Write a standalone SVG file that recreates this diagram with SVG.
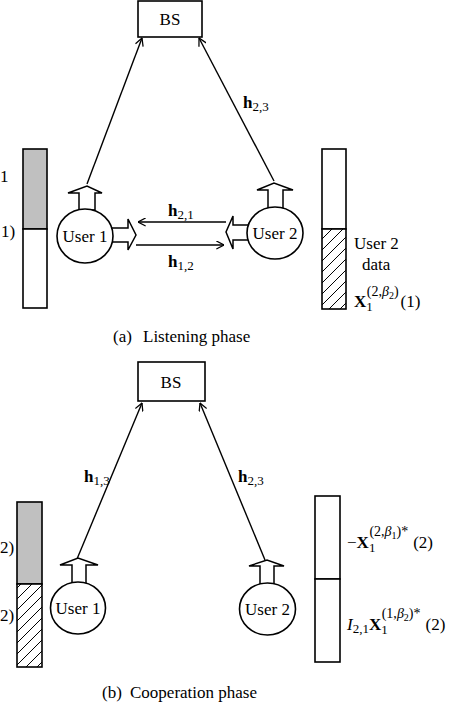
<svg xmlns="http://www.w3.org/2000/svg" width="474" height="718" viewBox="0 0 474 718">
<style>
text{font-family:"Liberation Serif","Times New Roman",serif;font-size:17px;fill:#000}
.b{font-weight:bold}
.s{font-size:13px}
.sp{font-size:14px}
.ss{font-size:10px}
.it{font-style:italic}
.box{fill:#fff;stroke:#000;stroke-width:1.6}
.gray{fill:#c0c0c0;stroke:#000;stroke-width:1.6}
.hatch{fill:url(#hatch);stroke:#000;stroke-width:1.6}
.blk{fill:#fff;stroke:#000;stroke-width:1.5;stroke-linejoin:miter}
.ln{stroke:#000;stroke-width:1.4;fill:none}
</style>
<defs>
<marker id="open" viewBox="0 0 10 10" refX="9.5" refY="5" markerWidth="9" markerHeight="9" markerUnits="userSpaceOnUse" orient="auto">
<path d="M1,0.5 L9.5,5 L1,9.5" fill="none" stroke="#000" stroke-width="1.4"/>
</marker>
<pattern id="hatch" patternUnits="userSpaceOnUse" width="11" height="11">
<rect width="11" height="11" fill="#fff"/>
<path d="M0,11 L11,0 M-2,2 L2,-2 M9,13 L13,9" stroke="#000" stroke-width="1"/>
</pattern>
</defs>

<!-- (a) Listening phase -->
<g id="connectors-a">
<line class="ln" x1="87" y1="184" x2="142" y2="38" marker-end="url(#open)"/>
<line class="ln" x1="274" y1="181" x2="199" y2="38" marker-end="url(#open)"/>
<line class="ln" x1="226" y1="222" x2="138" y2="222" marker-end="url(#open)"/>
<line class="ln" x1="136" y1="245" x2="224" y2="245" marker-end="url(#open)"/>
<text x="243" y="108"><tspan class="b">h</tspan><tspan class="s" dy="3">2,3</tspan></text>
<text x="168" y="216"><tspan class="b">h</tspan><tspan class="s" dy="3">2,1</tspan></text>
<text x="168" y="267"><tspan class="b">h</tspan><tspan class="s" dy="3">1,2</tspan></text>
</g>
<g id="bs-a">
<rect class="box" x="138" y="1" width="64" height="36"/>
<text x="170" y="25" text-anchor="middle" font-size="16">BS</text>
</g>
<g id="user1-a">
<polygon class="blk" points="79,210 79,193 68,193 87,186 102,193 95,193 95,210"/>
<polygon class="blk" points="108,228 128,228 128,219 136,235 128,250 128,242 108,242"/>
<ellipse class="box" cx="85" cy="236" rx="28" ry="27"/>
<text x="85" y="242" text-anchor="middle">User 1</text>
</g>
<g id="user2-a">
<polygon class="blk" points="268,208 268,190 257,190 274,183 293,190 283,190 283,208"/>
<polygon class="blk" points="252,225 233,225 233,216 226,232 233,249 233,240 252,240"/>
<ellipse class="box" cx="275" cy="233" rx="28" ry="26"/>
<text x="275" y="239" text-anchor="middle">User 2</text>
</g>
<g id="buffer1-a">
<rect class="gray" x="23" y="149" width="24" height="80"/>
<rect class="box" x="23" y="229" width="24" height="79"/>
<text x="0" y="182">1</text>
<text x="1" y="237">1)</text>
</g>
<g id="buffer2-a">
<rect class="box" x="322" y="149" width="24" height="80"/>
<rect class="hatch" x="322" y="229" width="24" height="80"/>
<text x="354" y="249">User 2</text>
<text x="362" y="270">data</text>
<text x="354" y="307"><tspan class="b">X</tspan><tspan class="s" dy="4">1</tspan><tspan class="sp" dx="-6" dy="-15">(2,</tspan><tspan class="sp it">β</tspan><tspan class="ss" dy="3">2</tspan><tspan class="sp" dy="-3">)</tspan><tspan dx="2" dy="11">(1)</tspan></text>
</g>
<text id="caption-a" x="113" y="342" font-size="17.5">(a)<tspan x="143">Listening phase</tspan></text>

<!-- (b) Cooperation phase -->
<g id="connectors-b">
<line class="ln" x1="77" y1="559" x2="142" y2="403" marker-end="url(#open)"/>
<line class="ln" x1="265" y1="560" x2="200" y2="403" marker-end="url(#open)"/>
<text x="84" y="482"><tspan class="b">h</tspan><tspan class="s" dy="3">1,3</tspan></text>
<text x="238" y="482"><tspan class="b">h</tspan><tspan class="s" dy="3">2,3</tspan></text>
</g>
<g id="bs-b">
<rect class="box" x="138" y="362" width="67" height="39"/>
<text x="171" y="388" text-anchor="middle" font-size="16">BS</text>
</g>
<g id="user1-b">
<polygon class="blk" points="72,584 72,565 60,565 78,558 98,565 86,565 86,584"/>
<ellipse class="box" cx="78" cy="608" rx="27.5" ry="26"/>
<text x="78" y="614" text-anchor="middle">User 1</text>
</g>
<g id="user2-b">
<polygon class="blk" points="260,585 260,566 249,566 267,560 284,566 274,566 274,585"/>
<ellipse class="box" cx="267.5" cy="609" rx="28" ry="26"/>
<text x="267.5" y="615" text-anchor="middle">User 2</text>
</g>
<g id="buffer1-b">
<rect class="gray" x="17" y="502" width="25" height="82"/>
<rect class="hatch" x="17" y="584" width="25" height="83"/>
<text x="0" y="553">2)</text>
<text x="0" y="621">2)</text>
</g>
<g id="buffer2-b">
<rect class="box" x="315" y="496" width="25" height="83"/>
<rect class="box" x="315" y="579" width="25" height="83"/>
<text x="347" y="548">−<tspan class="b">X</tspan><tspan class="s" dy="4">1</tspan><tspan class="sp" dx="-6" dy="-16">(2,</tspan><tspan class="sp it">β</tspan><tspan class="ss" dy="3">1</tspan><tspan class="sp" dy="-3">)*</tspan><tspan dx="5" dy="12">(2)</tspan></text>
<text x="347" y="630"><tspan class="it">I</tspan><tspan class="s" dy="3">2,1</tspan><tspan class="b" dy="-3">X</tspan><tspan class="s" dy="4">1</tspan><tspan class="sp" dx="-6" dy="-16">(1,</tspan><tspan class="sp it">β</tspan><tspan class="ss" dy="3">2</tspan><tspan class="sp" dy="-3">)*</tspan><tspan dx="5" dy="12">(2)</tspan></text>
</g>
<text id="caption-b" x="102" y="698" font-size="17.5">(b)<tspan x="130">Cooperation phase</tspan></text>
</svg>
